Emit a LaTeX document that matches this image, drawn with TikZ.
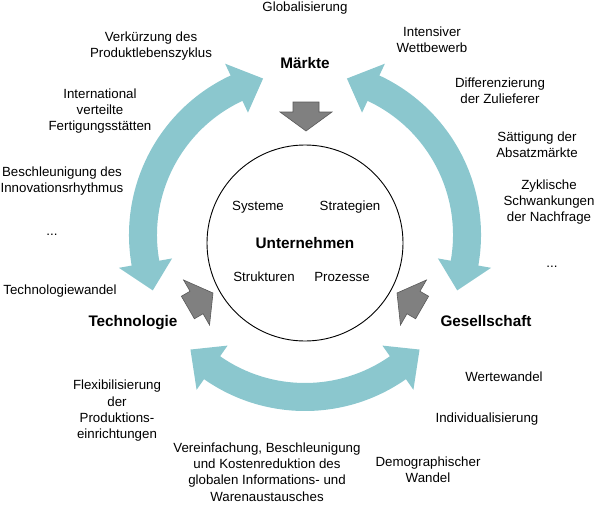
\documentclass[tikz,border=0pt]{standalone}
\usepackage{fontspec}
\setmainfont{Liberation Sans}
\usepackage{xcolor}
\usepackage{tikz}
\definecolor{bandcyan}{RGB}{139,199,206}
\definecolor{blockgray}{RGB}{128,128,128}
\definecolor{blockline}{RGB}{89,89,89}
\newcommand{\drawbandarrow}[2]{
	\fill[bandcyan]
		(#1:162pt) -- (#1+10:189pt) -- (#1+10:176pt)
		arc[start angle=#1+10, end angle=#2-10, radius=176pt]
		-- (#2-10:189pt) -- (#2:162pt) -- (#2-10:135pt) -- (#2-10:148pt)
		arc[start angle=#2-10, end angle=#1+10, radius=148pt]
		-- (#1+10:135pt) -- cycle;
}
\newcommand{\drawblockarrow}[3]{
	\draw[fill=blockgray, draw=blockline, line width=0.6pt, shift={(#1,#2)}, rotate=#3]
		(0,0) -- (-19,26) -- (-19,13) -- (-29,13) -- (-29,-13) -- (-19,-13) -- (-19,-26) -- cycle;
}
\tikzset{
	labeltext/.style={font=\fontsize{13.3}{16.3}\selectfont, align=center, inner sep=0pt},
	headtext/.style={font=\fontsize{15.3}{18}\selectfont\bfseries, inner sep=0pt}
}
\begin{document}
\begin{tikzpicture}[x=1pt, y=1pt]
		\useasboundingbox (0,0) rectangle (595,-506);
		% curved arrows
		\begin{scope}[shift={(305,-235)}]
			\drawbandarrow{105}{200}
			\drawbandarrow{-20}{75}
			\drawbandarrow{225}{315}
		\end{scope}
		% company circle
		\node[draw, circle, line width=0.9pt, minimum size=196pt, headtext] (firma) at (305,-243) {Unternehmen};
		\node[labeltext] (systeme) at (258,-207) {Systeme};
		\node[labeltext] (strategien) at (350,-207) {Strategien};
		\node[labeltext] (strukturen) at (264,-277) {Strukturen};
		\node[labeltext] (prozesse) at (342,-277) {Prozesse};
		% block arrows
		\drawblockarrow{306}{-131}{-90}
		\drawblockarrow{213}{-293}{30}
		\drawblockarrow{397}{-293}{150}
		% headings
		\node[headtext] (maerkte) at (305,-63) {Märkte};
		\node[headtext] (technologie) at (133,-323) {Technologie};
		\node[headtext] (gesellschaft) at (486,-321) {Gesellschaft};
		% drivers
		\node[labeltext] (globalisierung) at (305,-8) {Globalisierung};
		\node[labeltext] (verkuerzung) at (151,-46) {Verkürzung des\\Produktlebenszyklus};
		\node[labeltext] (wettbewerb) at (432,-40) {Intensiver\\Wettbewerb};
		\node[labeltext] (fertigung) at (100,-111) {International\\verteilte\\Fertigungsstätten};
		\node[labeltext] (zulieferer) at (500,-91) {Differenzierung\\der Zulieferer};
		\node[labeltext] (innovation) at (62,-181) {Beschleunigung des\\Innovationsrhythmus};
		\node[labeltext] (saettigung) at (537,-145) {Sättigung der\\Absatzmärkte};
		\node[labeltext] (nachfrage) at (549,-202) {Zyklische\\Schwankungen\\der Nachfrage};
		\node[labeltext] (dotsleft) at (52,-235) {...};
		\node[labeltext] (dotsright) at (552,-267) {...};
		\node[labeltext] (techwandel) at (60,-291) {Technologiewandel};
		\node[labeltext] (flexibilisierung) at (117,-411) {Flexibilisierung\\der\\Produktions-\\einrichtungen};
		\node[labeltext] (wertewandel) at (504,-377) {Wertewandel};
		\node[labeltext] (individual) at (487,-419) {Individualisierung};
		\node[labeltext] (demographie) at (428,-470) {Demographischer\\Wandel};
		\node[labeltext] (austausch) at (267,-472) {Vereinfachung, Beschleunigung\\und Kostenreduktion des\\globalen Informations- und\\Warenaustausches};
	\end{tikzpicture}
\end{document}
